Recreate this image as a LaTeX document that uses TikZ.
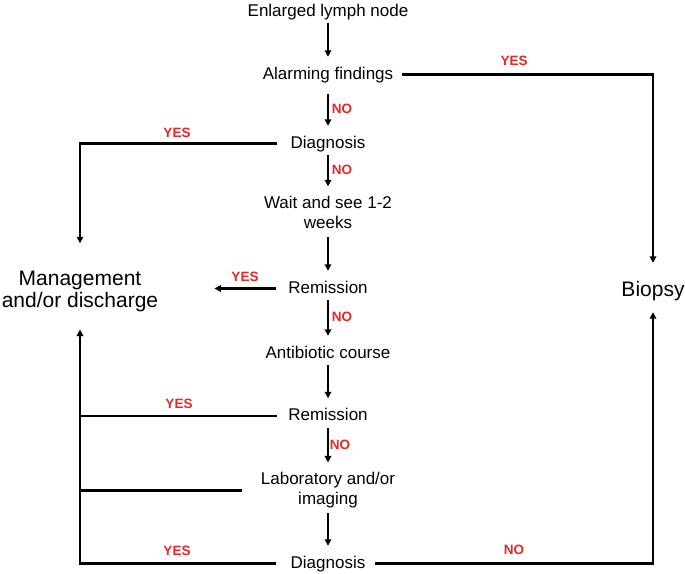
\documentclass[tikz,border=0pt]{standalone}
\usepackage{fontspec}
\setmainfont{Liberation Sans}
\usetikzlibrary{arrows.meta}
\definecolor{lblred}{RGB}{234,38,38}
\begin{document}
\begin{tikzpicture}[x=1pt,y=-1pt,
  box/.style={font=\fontsize{17}{20}\selectfont, inner xsep=4pt, inner ysep=4pt, text height=12pt, text depth=3pt},
  mbox/.style={font=\fontsize{17}{20}\selectfont, inner sep=4pt, align=center},
  big/.style={font=\fontsize{21}{22}\selectfont, inner sep=0pt, align=center},
  lbl/.style={font=\bfseries\fontsize{13.5}{15}\selectfont, text=lblred, inner sep=0pt},
  ln/.style={line width=2.4pt, line join=miter},
  arr/.style={ln, -{Triangle[length=6.5pt,width=6.5pt]}, shorten >=6pt}]
\fill[white] (0,0) rectangle (685,573);
\useasboundingbox (0,0) rectangle (685,573);
% main column
\node[box] (n1) at (328,11.5) {Enlarged lymph node};
\node[box] (n2) at (328,74.5) {Alarming findings};
\node[box] (n3) at (328,143.5) {Diagnosis};
\node[mbox] (n4) at (328,212.8) {Wait and see 1-2\\weeks};
\node[box] (n5) at (328,288.5) {Remission};
\node[box] (n6) at (328,353.5) {Antibiotic course};
\node[box] (n7) at (328,416) {Remission};
\node[mbox] (n8) at (328,490.5) {Laboratory and/or\\imaging};
\node[box] (n9) at (328,563.5) {Diagnosis};
% outcomes
\node[big] (mg) at (80,291.5) {Management\\and/or discharge};
\node[big, text height=15pt, text depth=4.5pt] (bx) at (653,291.25) {Biopsy};
% vertical arrows
\draw[arr] (n1) -- (n2);
\draw[arr, shorten <=7.5pt] (n2) -- (n3);
\draw[arr] (n3) -- (n4);
\draw[arr, shorten <=4pt] (n4) -- (n5);
\draw[arr] (n5) -- (n6);
\draw[arr] (n6) -- (n7);
\draw[arr] (n7) -- (n8);
\draw[arr] (n8) -- (n9);
% right branches
\draw[arr, shorten <=5pt, shorten >=18.5pt] (n2.east) -| (bx.north);
\draw[arr, shorten <=5pt, shorten >=11pt] (n9.east) -| (bx.south);
% left branches
\draw[arr, shorten <=9pt, shorten >=27.6pt] (n3.west) -| (mg.north);
\draw[arr, shorten <=8pt, shorten >=56pt] (n5.west) -- (n5.west -| mg.east);
\draw[arr, shorten <=10pt, shorten >=17.5pt] (n9.west) -| (mg.south);
\draw[ln, shorten <=7pt] (n7.west) -- (n7.west -| mg.south);
\draw[ln, shorten <=15pt] (n8.west) -- (n8.west -| mg.south);
% labels
\node[lbl] (y1) at (514,61) {YES};
\node[lbl] (o1) at (342,109) {NO};
\node[lbl] (y2) at (177,133) {YES};
\node[lbl] (o2) at (342,170) {NO};
\node[lbl] (y3) at (245,277) {YES};
\node[lbl] (o3) at (342,317) {NO};
\node[lbl] (y4) at (179,404) {YES};
\node[lbl] (o4) at (340,445) {NO};
\node[lbl] (y5) at (177,551) {YES};
\node[lbl] (o5) at (514,550) {NO};
\end{tikzpicture}
\end{document}
